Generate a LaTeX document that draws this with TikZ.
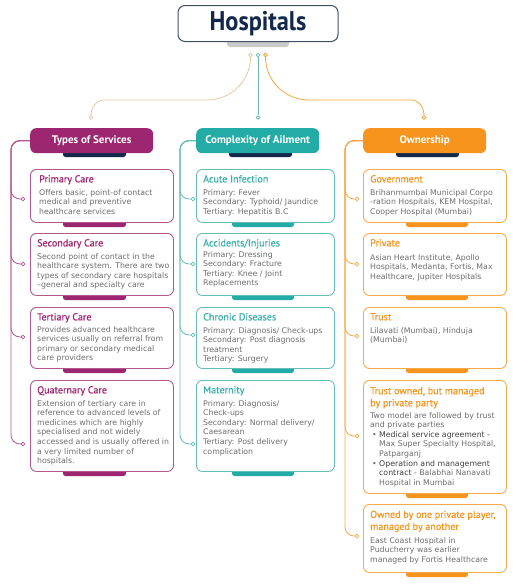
\documentclass[tikz,border=0pt]{standalone}
\usepackage{fontspec}
\setmainfont{DejaVu Sans}
\newfontfamily\headfont{PT Sans}
\newfontfamily\ttlfont[FakeBold=0.5]{PT Sans}
\usepackage{tikz}
\usetikzlibrary{positioning}

\definecolor{navy}{HTML}{13294B}
\definecolor{navyline}{HTML}{3E506C}
\definecolor{tabgrey}{HTML}{C9CACC}
\definecolor{svc}{HTML}{9C2670}
\definecolor{svcl}{HTML}{B4578F}
\definecolor{svct}{HTML}{A2226F}
\definecolor{ail}{HTML}{22ACA5}
\definecolor{aill}{HTML}{66BDB8}
\definecolor{ailt}{HTML}{3AAFA9}
\definecolor{own}{HTML}{F7941D}
\definecolor{ownl}{HTML}{F8A94A}
\definecolor{ownt}{HTML}{F7941D}
\definecolor{tanline}{HTML}{ECC6A2}
\definecolor{bodytxt}{HTML}{6D6E71}
\definecolor{darktxt}{HTML}{3F4042}

\begin{document}
\begin{tikzpicture}[x=1pt,y=-1pt,
    card/.style={draw=#1, line width=0.9pt, rounded corners=6pt, fill=white,
        anchor=north west, inner sep=0pt},
    hdr/.style={fill=#1, rounded corners=6pt, anchor=north west, inner sep=0pt,
        minimum width=123pt, minimum height=25pt, text=white,
        font=\headfont\bfseries\fontsize{11}{13}\selectfont},
    ttl/.style={text=#1, anchor=north west, inner sep=0pt, align=left,
        font=\ttlfont\fontsize{10.1}{12}\selectfont},
    txt/.style={text=bodytxt, anchor=north west, inner sep=0pt, align=left,
        font=\fontsize{7.8}{9.6}\selectfont},
    dot/.style={circle, draw=#1, fill=white, line width=0.7pt,
        minimum size=3.6pt, inner sep=0pt},
    link/.style={draw=#1, line width=0.8pt, rounded corners=9pt}
]
\useasboundingbox (0,0) rectangle (519,584);

% title
\fill[tabgrey, rounded corners=3pt] (227,36) rectangle (289,47);
\node[draw=navyline, line width=1pt, rounded corners=7pt, fill=white,
    minimum width=160pt, minimum height=36pt, text=navy,
    font=\headfont\bfseries\fontsize{27}{30}\selectfont] (hosp) at (258,23.5)
    {\scalebox{0.9}[1]{Hospitals}};

\node[dot=tanline] (t1) at (250.5,55) {};
\node[dot=aill] (t2) at (258,55) {};
\node[dot=own] (t3) at (265.5,55) {};

% headers
\foreach \x in {30, 196, 363}
    \fill[navy, rounded corners=2.5pt] (\x+33,148) rectangle (\x+96,157);
\node[hdr=svc] (svh) at (30,128) {Types of Services};
\node[hdr=ail] (ailh) at (196,128) {Complexity of Ailment};
\node[hdr=own] (ownh) at (363,128) {Ownership};

\node[dot=tanline] (svd) at (91,117.5) {};
\node[dot=aill] (aid) at (258,117.5) {};
\node[dot=own] (owd) at (424,117.5) {};

\draw[tanline, line width=0.8pt] (t1) to[out=-90,in=0] (207,100) -- (104,100)
    to[out=180,in=90] (svd);
\draw[aill, line width=0.8pt] (t2) -- (aid);
\draw[own!85, line width=0.8pt] (t3) to[out=-90,in=180] (309,100) -- (411,100)
    to[out=0,in=90] (owd);

% types of services
\foreach \nm/\ya/\yb/\y in {prim/169/222/199, sec/233/295/264, ter/307/368/337, quat/380/471/444}{
    \fill[svc, rounded corners=2.5pt] (63,\yb-4) rectangle (126,\yb+5);
    \node[card=svcl, minimum width=143pt, minimum height=\yb-\ya] (\nm) at (30,\ya) {};
    \node[dot=svcl] (\nm-d) at (23,\y) {};
    \draw[link=svcl] (svh.west) -| (11,\y) -- (\nm-d);
}
\node[ttl=svct, below right=6pt and 9pt of prim.north west] (primT) {Primary Care};
\node[txt, below right=20pt and 9pt of prim.north west] (primB)
    {Offers basic, point-of contact\\medical and preventive\\healthcare services};
\node[ttl=svct, below right=6pt and 7pt of sec.north west] (secT) {Secondary Care};
\node[txt, below right=20pt and 7pt of sec.north west] (secB)
    {Second point of contact in the\\healthcare system. There are two\\types of secondary care hospitals\\–general and specialty care};
\node[ttl=svct, below right=6pt and 7pt of ter.north west] (terT) {Tertiary Care};
\node[txt, below right=19pt and 7pt of ter.north west] (terB)
    {Provides advanced healthcare\\services usually on referral from\\primary or secondary medical\\care providers};
\node[ttl=svct, below right=6pt and 7pt of quat.north west] (quatT) {Quaternary Care};
\node[txt, below right=20pt and 7pt of quat.north west] (quatB)
    {Extension of tertiary care in\\reference to advanced levels of\\medicines which are highly\\specialised and not widely\\accessed and is usually offered in\\a very limited number of\\hospitals.};

% complexity of ailment
\foreach \nm/\ya/\yb/\y in {acute/169/222/199, acc/233/295/264, chron/307/368/335, mat/380/471/444}{
    \fill[ail, rounded corners=2.5pt] (232,\yb-4) rectangle (294,\yb+5);
    \node[card=aill, minimum width=138pt, minimum height=\yb-\ya] (\nm) at (196,\ya) {};
    \node[dot=aill] (\nm-d) at (193,\y) {};
    \draw[link=aill] (ailh.west) -| (180,\y) -- (\nm-d);
}
\node[ttl=ailt, below right=6pt and 7pt of acute.north west] (acuteT) {Acute Infection};
\node[txt, below right=20pt and 7pt of acute.north west] (acuteB)
    {Primary: Fever\\Secondary: Typhoid/ Jaundice\\Tertiary: Hepatitis B.C};
\node[ttl=ailt, below right=6pt and 7pt of acc.north west] (accT) {Accidents/Injuries};
\node[txt, below right=18pt and 7pt of acc.north west] (accB)
    {Primary: Dressing\\Secondary: Fracture\\Tertiary: Knee / Joint\\Replacements};
\node[ttl=ailt, below right=6pt and 7pt of chron.north west] (chronT) {Chronic Diseases};
\node[txt, below right=20pt and 7pt of chron.north west] (chronB)
    {Primary: Diagnosis/ Check-ups\\Secondary: Post diagnosis\\treatment\\Tertiary: Surgery};
\node[ttl=ailt, below right=6pt and 7pt of mat.north west] (matT) {Maternity};
\node[txt, below right=20pt and 7pt of mat.north west] (matB)
    {Primary: Diagnosis/\\Check-ups\\Secondary: Normal delivery/\\Caesarean\\Tertiary: Post delivery\\complication};

% ownership
\foreach \nm/\ya/\yb/\y in {gov/169/222/199, priv/233/295/264, trust/307/368/336, tom/380/493/436, opm/504/572/536}{
    \fill[own, rounded corners=2.5pt] (406,\yb-4) rectangle (468,\yb+5);
    \node[card=ownl, minimum width=143pt, minimum height=\yb-\ya] (\nm) at (363,\ya) {};
    \node[dot=ownl] (\nm-d) at (357,\y) {};
    \draw[link=ownl] (ownh.west) -| (345,\y) -- (\nm-d);
}
\node[ttl=ownt, below right=6pt and 7pt of gov.north west] (govT) {Government};
\node[txt, below right=20pt and 7pt of gov.north west] (govB)
    {Brihanmumbai Municipal Corpo\\-ration Hospitals, KEM Hospital,\\Cooper Hospital (Mumbai)};
\node[ttl=ownt, below right=6pt and 7pt of priv.north west] (privT) {Private};
\node[txt, below right=21pt and 7pt of priv.north west] (privB)
    {Asian Heart Institute, Apollo\\Hospitals, Medanta, Fortis, Max\\Healthcare, Jupiter Hospitals};
\node[ttl=ownt, below right=6pt and 7pt of trust.north west] (trustT) {Trust};
\node[txt, below right=20pt and 7pt of trust.north west] (trustB)
    {Lilavati (Mumbai), Hinduja\\(Mumbai)};
\node[ttl=ownt, below right=7pt and 7pt of tom.north west] (tomT)
    {Trust owned, but managed\\by private party};
\node[txt, below right=32pt and 7pt of tom.north west] (tomB)
    {Two model are followed by trust\\and private parties\\
     \hspace*{2pt}\makebox[7pt][l]{•}{\color{darktxt}Medical service agreement -}\\
     \hspace*{9pt}Max Super Specialty Hospital,\\
     \hspace*{9pt}Patparganj\\
     \hspace*{2pt}\makebox[7pt][l]{•}{\color{darktxt}Operation and management}\\
     \hspace*{9pt}{\color{darktxt}contract} - Balabhai Nanavati\\
     \hspace*{9pt}Hospital in Mumbai};
\node[ttl=ownt, below right=6.5pt and 7pt of opm.north west] (opmT)
    {Owned by one private player,\\managed by another};
\node[txt, below right=33pt and 7pt of opm.north west] (opmB)
    {East Coast Hospital in\\Puducherry was earlier\\managed by Fortis Healthcare};
\end{tikzpicture}
\end{document}
